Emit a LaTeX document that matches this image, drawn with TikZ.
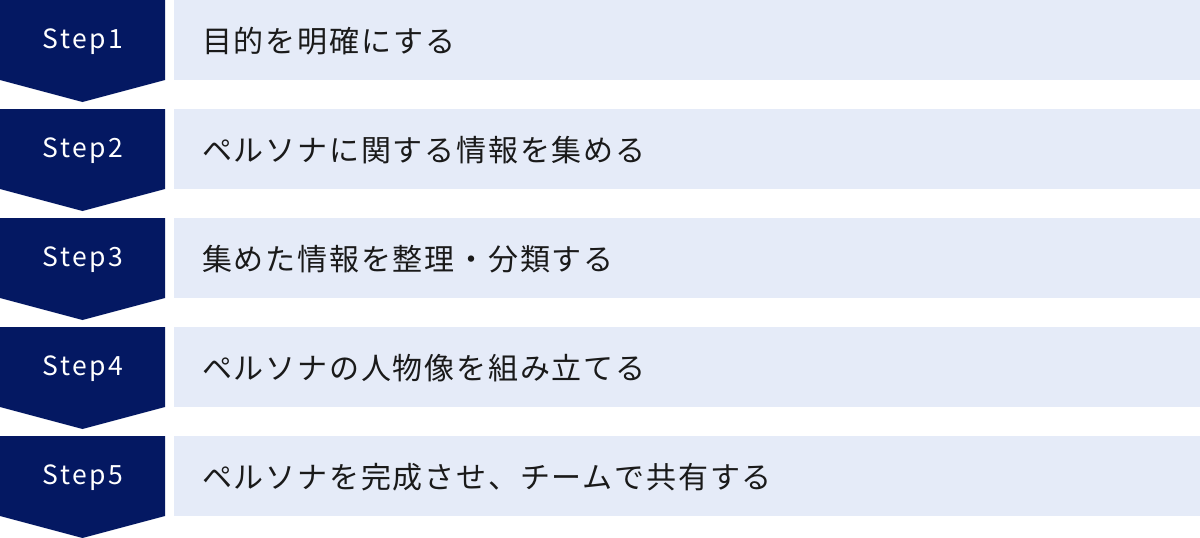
\documentclass[tikz,border=0pt]{standalone}
\usepackage{fontspec}
\newfontfamily\jpfont[LetterSpace=6]{Noto Sans CJK JP}
\newfontfamily\stepfont[LetterSpace=10]{Noto Sans CJK JP}
\definecolor{navy}{HTML}{041862}
\definecolor{barbg}{HTML}{E5EBF8}
\definecolor{txt}{HTML}{1A1A1A}
\tikzset{
  arrowshape/.style={fill=navy, draw=none},
  barshape/.style={fill=barbg, draw=none},
  steplabel/.style={text=white, inner sep=0pt, font=\stepfont\fontsize{26.5}{32}\selectfont},
  stepdesc/.style={text=txt, inner sep=0pt, anchor=west, font=\jpfont\fontsize{30}{36}\selectfont},
}
\begin{document}
\begin{tikzpicture}[x=1pt,y=-1pt]
\useasboundingbox (0,0) rectangle (1200,538);
\foreach \i/\t/\d in {1/0/目的を明確にする,
                      2/109/ペルソナに関する情報を集める,
                      3/218/集めた情報を整理・分類する,
                      4/327/ペルソナの人物像を組み立てる,
                      5/436/ペルソナを完成させ、チームで共有する}{
  \fill[arrowshape] (0,\t) -- (165,\t) -- (165,\t+80) -- (82.5,\t+102) -- (0,\t+80) -- cycle;
  \fill[barshape] (174,\t) rectangle (1200,\t+80);
  \node[steplabel] (s\i) at (83,\t+42) {Step\i};
  \node[stepdesc] (d\i) at (202,\t+41.5) {\d};
}
\end{tikzpicture}
\end{document}
